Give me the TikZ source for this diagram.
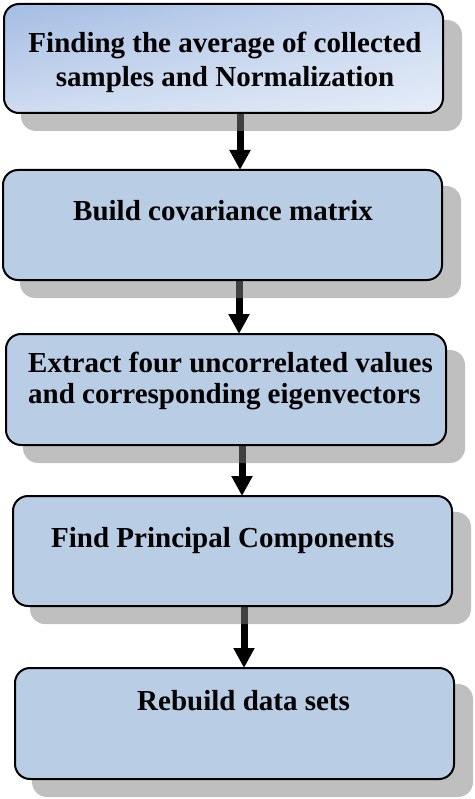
\documentclass[tikz,border=0pt]{standalone}
\usepackage{fontspec}
\setmainfont{Liberation Serif}
\usetikzlibrary{arrows.meta,shadings}
\pgfdeclarelayer{bg}
\pgfdeclarelayer{shad}
\pgfsetlayers{bg,shad,main}
\definecolor{boxblue}{HTML}{B9CDE5}
\definecolor{gUL}{HTML}{A4BDE3}
\definecolor{gLL}{HTML}{CFDBF0}
\definecolor{gUR}{HTML}{C8D7EF}
\definecolor{gLR}{HTML}{E6EDF8}
\definecolor{shadgray}{gray}{0.5}
\tikzset{
  box/.style={draw=black, line width=2pt, rounded corners=15pt, fill=boxblue, inner sep=0pt},
  lbl/.style={font=\bfseries\fontsize{29}{34}\selectfont, inner sep=0pt, text=black},
  shadowbox/.style={fill=shadgray, opacity=0.5, rounded corners=15pt},
  flow/.style={line width=7pt, -{Triangle[width=20pt,length=20pt]}, shorten >=-1pt}
}
\begin{document}
\begin{tikzpicture}[x=1pt,y=-1pt]
\useasboundingbox (0,0) rectangle (474,799);
% boxes
\node[box, upper left=gUL, lower left=gLL, upper right=gUR, lower right=gLR, minimum width=439pt, minimum height=109pt] (b1) at (223.5,58.5) {};
\node[box, minimum width=439pt, minimum height=110pt] (b2) at (222.5,225) {};
\node[box, minimum width=440pt, minimum height=111pt] (b3) at (226,389.5) {};
\node[box, minimum width=439pt, minimum height=110pt] (b4) at (232.5,551) {};
\node[box, minimum width=439pt, minimum height=111pt] (b5) at (234.5,723.5) {};
% texts
\node[lbl, anchor=base] (t1a) at (225,53) {Finding the average of collected};
\node[lbl, anchor=base] (t1b) at (225,87) {samples and Normalization};
\node[lbl, anchor=base west] (t2) at (73,221) {Build covariance matrix};
\node[lbl, anchor=base west] (t3a) at (28,372) {Extract four uncorrelated values};
\node[lbl, anchor=base west] (t3b) at (28,403) {and corresponding eigenvectors};
\node[lbl, anchor=base west] (t4) at (51,547) {Find Principal Components};
\node[lbl, anchor=base west] (t5) at (137,710) {Rebuild data sets};
% arrow x positions
\coordinate (x1) at (240,0);
\coordinate (x2) at (239,0);
\coordinate (x3) at (242,0);
\coordinate (x4) at (244,0);
\begin{pgfonlayer}{bg}
\draw[flow] (b1.south -| x1) -- (b2.north -| x1);
\draw[flow] (b2.south -| x2) -- (b3.north -| x2);
\draw[flow] (b3.south -| x3) -- (b4.north -| x3);
\draw[flow] (b4.south -| x4) -- (b5.north -| x4);
\end{pgfonlayer}
\begin{pgfonlayer}{shad}
\foreach \b in {b1,b2,b3,b4,b5}{
  \fill[shadowbox] ([shift={(18pt,-17pt)}]\b.south west) rectangle ([shift={(18pt,-17pt)}]\b.north east);
}
\end{pgfonlayer}
\end{tikzpicture}
\end{document}
